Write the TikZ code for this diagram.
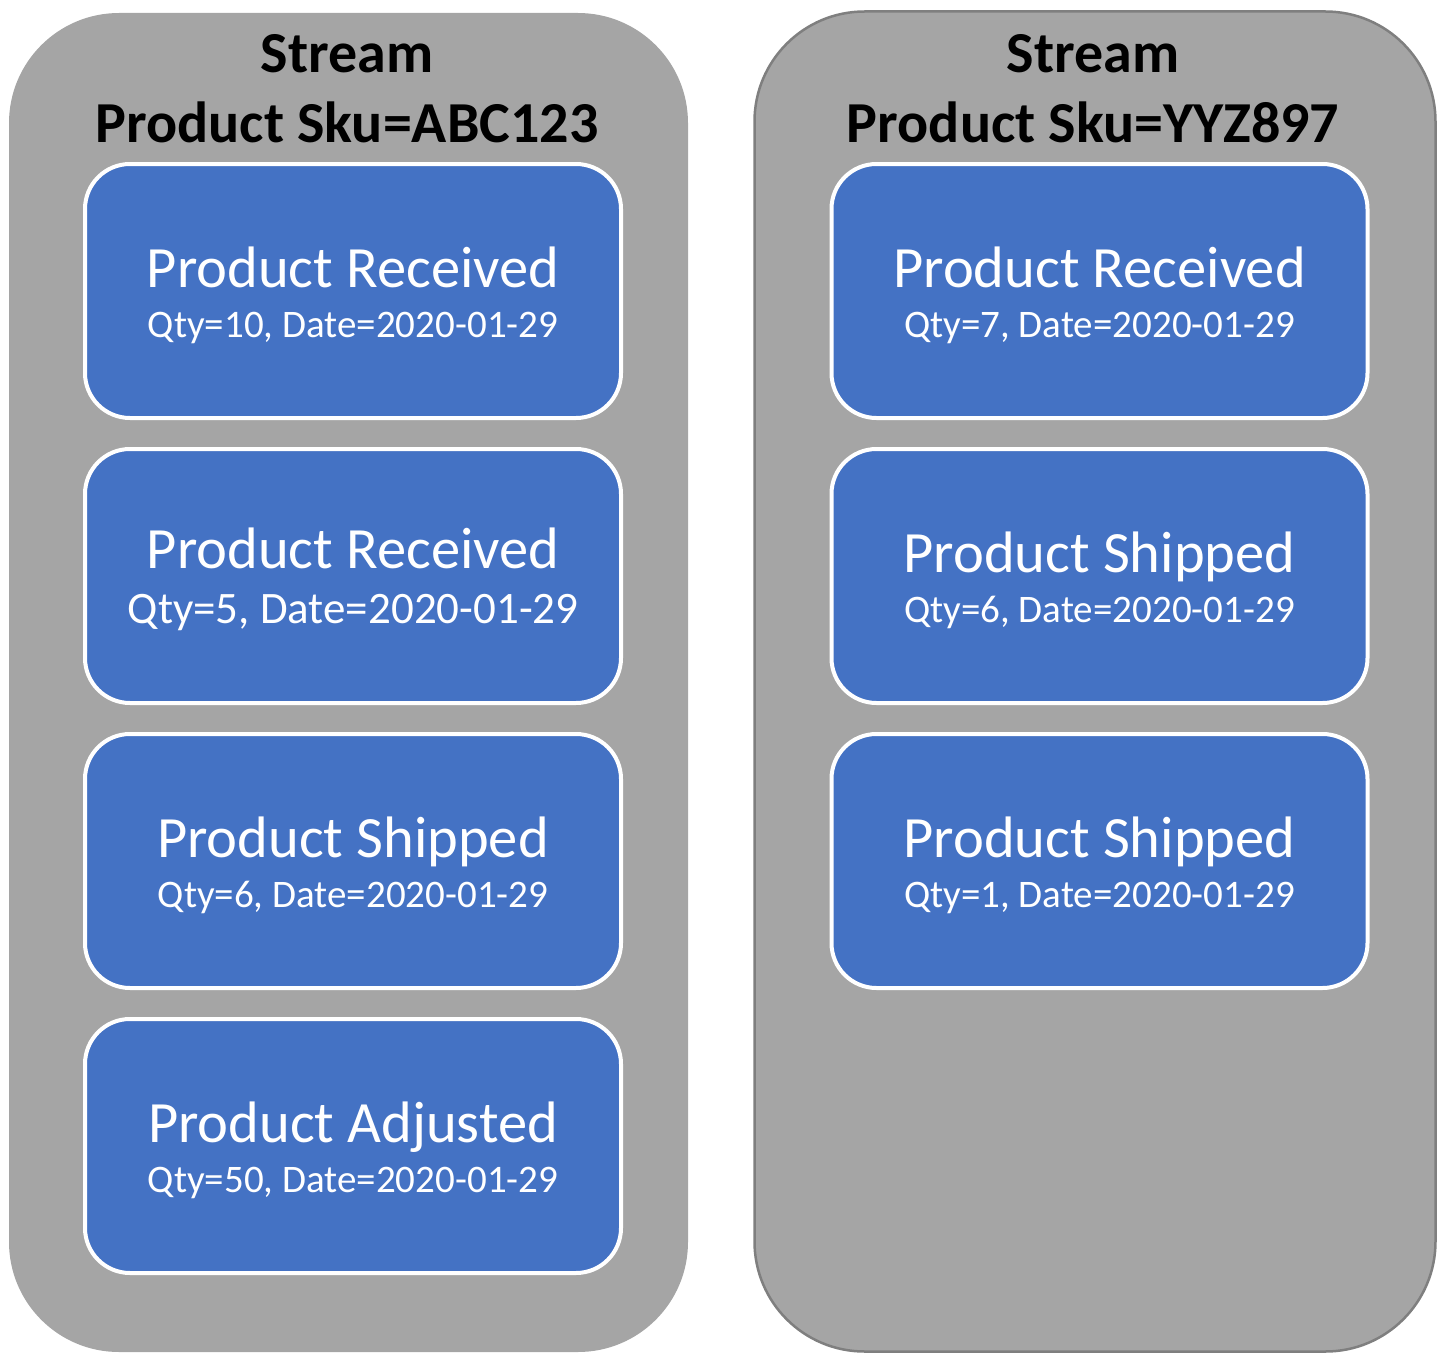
\documentclass[tikz,border=0pt]{standalone}
\usepackage{fontspec}
\setmainfont{Carlito}
\definecolor{StreamGray}{HTML}{A5A5A5}
\definecolor{StreamEdge}{HTML}{7F7F7F}
\definecolor{EventBlue}{HTML}{4472C4}
\usetikzlibrary{positioning}

\begin{document}
\begin{tikzpicture}[x=1pt,y=-1pt,
 stream/.style={fill=StreamGray,rounded corners=110pt,inner sep=0pt},
 event/.style={draw=white,line width=4pt,fill=EventBlue,rounded corners=45pt,
  minimum width=536pt,minimum height=254pt,inner sep=0pt},
 heading/.style={anchor=base,font=\fontsize{58}{68}\selectfont\bfseries},
 title/.style={anchor=base,text=white,font=\fontsize{58.5}{68}\selectfont}]
\useasboundingbox (0,0) rectangle (1444,1354);
\node[stream,minimum width=679pt,minimum height=1339pt] (sA) at (348.5,682.5) {};
\node[stream,draw=StreamEdge,line width=2.5pt,minimum width=681pt,
 minimum height=1340pt] (sB) at (1095,681.5) {};
\node[heading] (hA1) at (347,73) {Stream};
\node[heading] (hA2) at (347,142) {Product Sku=ABC123};
\node[heading] (hB1) at (1093,73) {Stream};
\node[heading] (hB2) at (1093,142) {Product Sku=YYZ897};
% events: name/x/y/title/qty/size/title shift/sub shift
\foreach \n/\cx/\cy/\ttl/\qty/\fs/\tb/\sb in {
 a1/353/291/Product Received/Qty=10/39/-4/46,
 a2/353/576/Product Received/Qty=5/45/-8/47,
 a3/353/861/Product Shipped/Qty=6/39/-4/46,
 a4/353/1146/Product Adjusted/Qty=50/39/-4/46,
 b1/1099.5/291/Product Received/Qty=7/39/-4/46,
 b2/1099.5/576/Product Shipped/Qty=6/39/-4/46,
 b3/1099.5/861/Product Shipped/Qty=1/39/-4/46} {
 \node[event] (\n) at (\cx,\cy) {};
 \node[title] (\n t) at (\cx,\cy+\tb) {\ttl};
 \node[anchor=base,text=white,font=\fontsize{\fs}{\fs}\selectfont]
  (\n q) at (\cx,\cy+\sb) {\qty, Date=2020-01-29};
}
\end{tikzpicture}
\end{document}
